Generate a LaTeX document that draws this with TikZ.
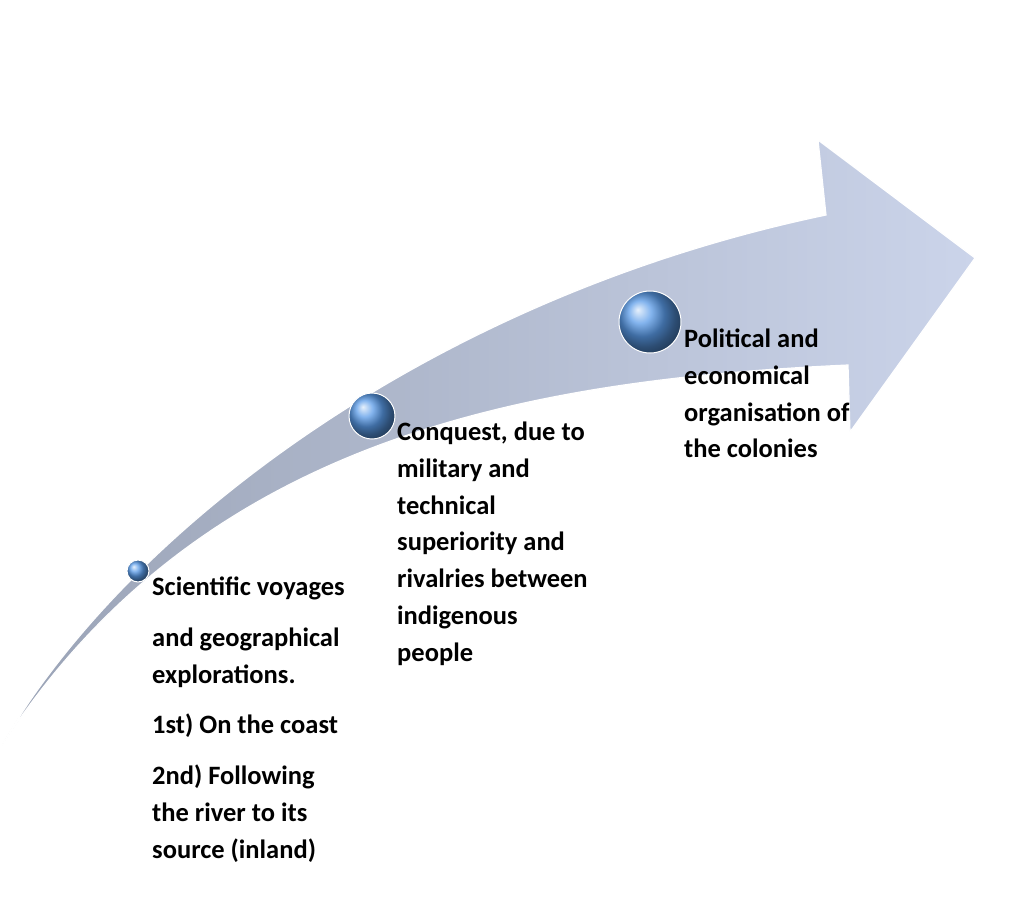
\documentclass[tikz,border=0pt]{standalone}
\usepackage{fontspec}
\setmainfont{Carlito}
\definecolor{arrL}{HTML}{9AA3B6}
\definecolor{arrR}{HTML}{CBD4EA}
\definecolor{ballD}{HTML}{5A9BE8}
\tikzset{
  ball/.style={circle, draw=white, line width=1pt, ball color=ballD, minimum size=#1},
  lbl/.style={anchor=north west, align=left, inner sep=0pt, font=\bfseries\fontsize{26.5}{36.7}\selectfont}
}
\begin{document}
\begin{tikzpicture}[x=1pt,y=-1pt]
\useasboundingbox (0,0) rectangle (1010,921);
\shade[left color=arrL, right color=arrR, draw=white, line width=1.2pt]
  (2,745) .. controls (120,540) and (420,300) .. (826,215) -- (818,140) -- (975,258) -- (850,432) -- (848,365)
  .. controls (520,380) and (200,440) .. cycle;
\node[ball=22pt] (b1) at (138,571) {};
\node[ball=46pt] (b2) at (372,416) {};
\node[ball=62pt] (b3) at (650,322) {};
\node[lbl] (t1) at (152,577) {Scientific voyages\\[14pt]and geographical\\explorations.\\[14pt]1st) On the coast\\[14pt]2nd) Following\\the river to its\\source (inland)};
\node[lbl] (t2) at (397,422) {Conquest, due to\\military and\\technical\\superiority and\\rivalries between\\indigenous\\people};
\node[lbl] (t3) at (684,329) {Political and\\economical\\organisation of\\the colonies};
\end{tikzpicture}
\end{document}
